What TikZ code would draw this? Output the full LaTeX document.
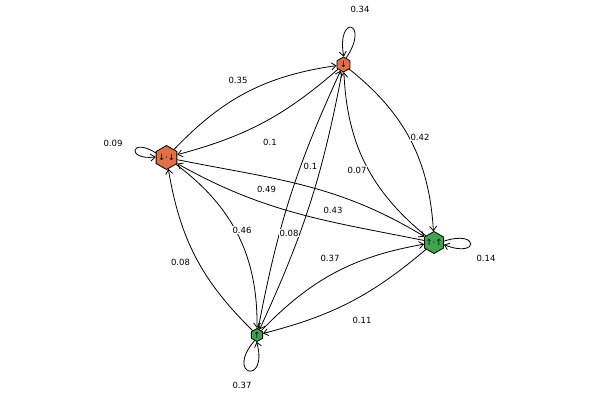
\documentclass[tikz,border=0pt]{standalone}
\usepackage{fontspec}
\setmainfont{DejaVu Sans}
\usetikzlibrary{shapes.geometric,arrows.meta}
\definecolor{jorange}{RGB}{227,111,71}
\definecolor{jgreen}{RGB}{62,164,78}
\begin{document}
\begin{tikzpicture}[x=1pt,y=1pt,
  hexnode/.style={regular polygon, regular polygon sides=6, shape border rotate=30,
    draw=black, line width=0.8pt, inner sep=0pt},
  hextext/.style={font=\fontsize{8.5}{8.5}\selectfont, inner sep=0pt},
  edge/.style={draw=black, line width=0.8pt, -{Straight Barb[length=4.5pt,width=7pt]}},
  wlabel/.style={fill=white, inner sep=1pt, font=\fontsize{8.5}{9}\selectfont},
]
\useasboundingbox (0,0) rectangle (600,400);
\node[hexnode, fill=jorange, minimum size=24pt, label={[hextext]center:↓·↓}] (A) at (166.5,242.5) {};
\node[hexnode, fill=jorange, minimum size=15pt, label={[hextext]center:↓}] (B) at (343.5,335.5) {};
\node[hexnode, fill=jgreen, minimum size=22pt, label={[hextext]center:↑·↑}] (C) at (434,157.5) {};
\node[hexnode, fill=jgreen, minimum size=13pt, label={[hextext]center:↑}] (D) at (257,65) {};

% pair edges
\draw[edge] (A) to[relative, out=19, in=161] (B);
\draw[edge] (B) to[relative, out=13, in=167] (A);
\draw[edge] (B) to[relative, out=24, in=156] (C);
\draw[edge] (C) to[relative, out=24, in=156] (B);
\draw[edge] (A) to[relative, out=6, in=166] (C);
\draw[edge] (C) to[relative, out=6, in=168] (A);
\draw[edge] (B) to[relative, out=7, in=173] (D);
\draw[edge] (D) to[relative, out=7, in=173] (B);
\draw[edge] (A) to[relative, out=27, in=153] (D);
\draw[edge] (D) to[relative, out=18, in=162] (A);
\draw[edge] (D) to[relative, out=18, in=162] (C);
\draw[edge] (C) to[relative, out=13, in=167] (D);

% self loops
\draw[edge] (A.157) .. controls +(147:30) and +(187:30) .. (A.177);
\draw[edge] (B.68) .. controls +(56:44) and +(100:44) .. (B.88);
\draw[edge] (C.8) .. controls +(18:38) and +(-22:38) .. (C.-12);
\draw[edge] (D.247) .. controls +(229:46) and +(285:46) .. (D.267);

% labels
\node[wlabel] (l1) at (238,320) {0.35};
\node[wlabel] (l2) at (270,258) {0.1};
\node[wlabel] (l3) at (113,257) {0.09};
\node[wlabel] (l4) at (360,391) {0.34};
\node[wlabel] (l5) at (420,263) {0.42};
\node[wlabel] (l6) at (357,230) {0.07};
\node[wlabel] (l7) at (310.5,233.5) {0.1};
\node[wlabel] (l8) at (266.5,210.5) {0.49};
\node[wlabel] (l9) at (333,189.5) {0.43};
\node[wlabel] (l10) at (289,167) {0.08};
\node[wlabel] (l11) at (242,170) {0.46};
\node[wlabel] (l12) at (180.5,138) {0.08};
\node[wlabel] (l13) at (330,142) {0.37};
\node[wlabel] (l14) at (362,80) {0.11};
\node[wlabel] (l15) at (486,142) {0.14};
\node[wlabel] (l16) at (242,15) {0.37};
\end{tikzpicture}
\end{document}
